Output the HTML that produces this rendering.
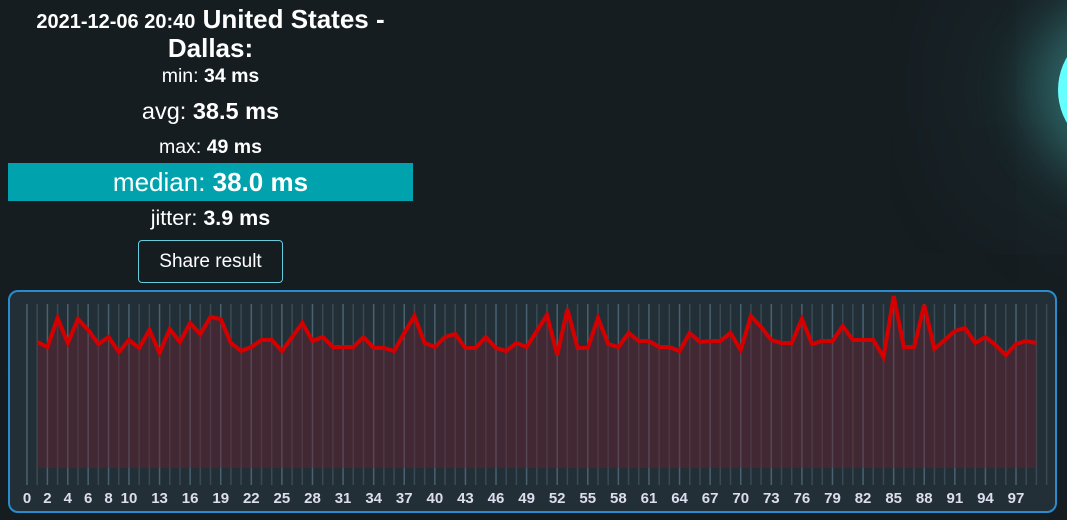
<!DOCTYPE html>
<html><head><meta charset="utf-8"><style>
body{margin:0;width:1067px;height:520px;overflow:hidden;background:#161d21;font-family:"Liberation Sans",sans-serif;color:#fff;position:relative}
.glow{position:absolute;left:1058px;top:25px;width:130px;height:130px;border-radius:50%;background:#6ff;box-shadow:0 0 50px 25px rgba(80,200,200,.35),0 0 130px 80px rgba(60,150,150,.15)}
.panel{position:absolute;left:8px;top:0;width:405px;text-align:center}
.t{position:absolute;left:0;width:405px;text-align:center;white-space:nowrap}
b{font-weight:bold}
</style></head><body>
<div class="glow"></div>
<div class="panel">
<div class="t" style="top:4px;font-size:26px;font-weight:bold"><span style="font-size:20px">2021-12-06 20:40</span> United States -</div>
<div class="t" style="top:33px;font-size:26px;font-weight:bold">Dallas:</div>
<div class="t" style="top:65px;font-size:19.5px">min: <b>34 ms</b></div>
<div class="t" style="top:98px;font-size:23.5px">avg: <b>38.5 ms</b></div>
<div class="t" style="top:136px;font-size:19.5px">max: <b>49 ms</b></div>
<div class="t" style="top:163px;height:38px;line-height:38px;background:#00a3ad;font-size:26px">median: <b>38.0 ms</b></div>
<div class="t" style="top:206px;font-size:21.5px">jitter: <b>3.9 ms</b></div>
<div style="position:absolute;left:130px;top:240px;width:145px;height:43px;border:1px solid #6cd;border-radius:4px;box-sizing:border-box;line-height:41px;font-size:19px">Share result</div>
</div>
<svg id="c" width="1067" height="520" style="position:absolute;left:0;top:0"></svg>
<script>
var y=[342,347,318,343,319,330,344,337,352,340,348,330,353,329,342,323,334,317,319,343,351,347,340,340,351,337,323,341,337,347,347,347,337,348,348,351,333,316,343,347,337,334,348,348,337,348,351,343,347,331,315,355,309,348,348,318,344,347,333,341,341,347,347,351,333,342,341,341,333,350,316,327,340,343,343,319,344,341,341,326,340,340,340,357,296,347,347,305,349,340,331,328,343,337,345,355,344,341,343];
var s='<rect x="9" y="291" width="1047" height="221" rx="9" fill="#232f37" stroke="#2a8ccc" stroke-width="2"/>';
function X(i){return 27+i*10.196;}
var lab=[0,2,4,6,8,10,13,16,19,22,25,28,31,34,37,40,43,46,49,52,55,58,61,64,67,70,73,76,79,82,85,88,91,94,97];
for(var i=0;i<=100;i++){var L=lab.indexOf(i)>=0;s+='<line x1="'+X(i)+'" x2="'+X(i)+'" y1="304" y2="485" stroke="'+(L?'#4a6170':'#3a4a55')+'" stroke-width="1.5"/>';}
var p='';for(var i=0;i<y.length;i++)p+=X(i+1).toFixed(1)+','+y[i]+' ';
s+='<polygon points="'+X(1)+',468 '+p+X(99)+',468" fill="rgba(110,30,45,0.4)"/>';
s+='<polyline points="'+p+'" fill="none" stroke="#d40000" stroke-width="4" stroke-linejoin="miter"/>';
lab.forEach(function(i){s+='<text x="'+X(i)+'" y="503" text-anchor="middle" font-size="15" font-weight="bold" fill="#dde" font-family="Liberation Sans,sans-serif">'+i+'</text>';});
document.getElementById('c').innerHTML=s;
</script>
</body></html>
